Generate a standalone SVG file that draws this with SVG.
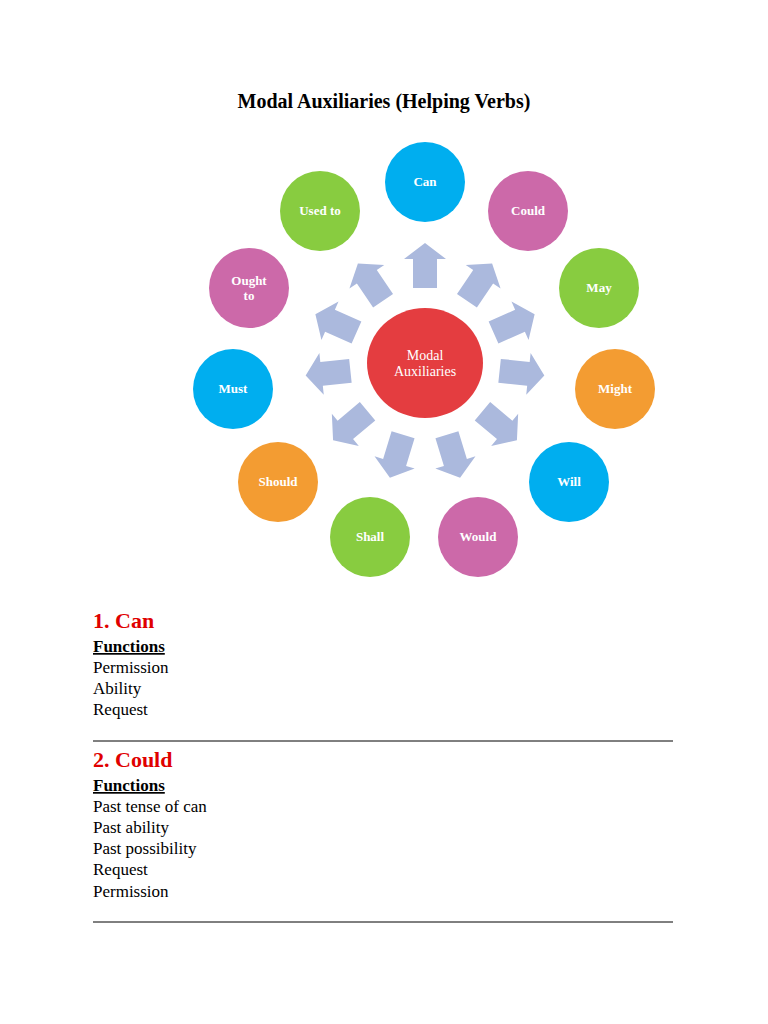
<svg xmlns="http://www.w3.org/2000/svg" width="768" height="1024" viewBox="0 0 768 1024">
<style>
.t{font-family:"Liberation Serif",serif}
.n{font-family:"Liberation Serif",serif;font-weight:bold;font-size:13px;fill:#fff;text-anchor:middle}
.h{font-family:"Liberation Serif",serif;font-weight:bold;font-size:22px;fill:#e00000}
.f{font-family:"Liberation Serif",serif;font-weight:bold;font-size:17px;text-decoration:underline}
.b{font-family:"Liberation Serif",serif;font-size:17px}
.ar{fill:#abb9dd}
</style>
<defs>
<path id="arr" d="M-12,-75 L12,-75 L12,-104 L21,-104 L0,-120 L-21,-104 L-12,-104 Z"/>
</defs>
<rect width="768" height="1024" fill="#fff"/>
<text class="t" x="384" y="108" font-size="20" font-weight="bold" text-anchor="middle">Modal Auxiliaries (Helping Verbs)</text>
<g id="connectors" class="ar" transform="translate(425,363)">
<use href="#arr" transform="rotate(0)"/>
<use href="#arr" transform="rotate(34)"/>
<use href="#arr" transform="rotate(66)"/>
<use href="#arr" transform="rotate(96)"/>
<use href="#arr" transform="rotate(130)"/>
<use href="#arr" transform="rotate(163)"/>
<use href="#arr" transform="rotate(197)"/>
<use href="#arr" transform="rotate(230)"/>
<use href="#arr" transform="rotate(264)"/>
<use href="#arr" transform="rotate(294)"/>
<use href="#arr" transform="rotate(326)"/>
</g>
<g id="center"><ellipse cx="425" cy="363" rx="58" ry="55" fill="#e43d40"/>
<text class="t" x="425" y="360" font-size="14" fill="#fff" text-anchor="middle">Modal</text>
<text class="t" x="425" y="376" font-size="14" fill="#fff" text-anchor="middle">Auxiliaries</text></g>
<g id="can"><circle cx="425" cy="182" r="40" fill="#00aeef"/><text class="n" x="425" y="186">Can</text></g>
<g id="could"><circle cx="528" cy="211" r="40" fill="#cc69a9"/><text class="n" x="528" y="215">Could</text></g>
<g id="may"><circle cx="599" cy="288" r="40" fill="#88cc40"/><text class="n" x="599" y="292">May</text></g>
<g id="might"><circle cx="615" cy="389" r="40" fill="#f39c32"/><text class="n" x="615" y="393">Might</text></g>
<g id="will"><circle cx="569" cy="482" r="40" fill="#00aeef"/><text class="n" x="569" y="486">Will</text></g>
<g id="would"><circle cx="478" cy="537" r="40" fill="#cc69a9"/><text class="n" x="478" y="541">Would</text></g>
<g id="shall"><circle cx="370" cy="537" r="40" fill="#88cc40"/><text class="n" x="370" y="541">Shall</text></g>
<g id="should"><circle cx="278" cy="482" r="40" fill="#f39c32"/><text class="n" x="278" y="486">Should</text></g>
<g id="must"><circle cx="233" cy="389" r="40" fill="#00aeef"/><text class="n" x="233" y="393">Must</text></g>
<g id="ought"><circle cx="249" cy="288" r="40" fill="#cc69a9"/><text class="n" x="249" y="285">Ought</text><text class="n" x="249" y="300">to</text></g>
<g id="usedto"><circle cx="320" cy="211" r="40" fill="#88cc40"/><text class="n" x="320" y="215">Used to</text></g>
<text class="h" x="93" y="628">1. Can</text>
<text class="f" x="93" y="652">Functions</text>
<text class="b" x="93" y="673">Permission</text>
<text class="b" x="93" y="694">Ability</text>
<text class="b" x="93" y="715">Request</text>
<line x1="93" y1="741" x2="673" y2="741" stroke="#000" stroke-width="1"/>
<text class="h" x="93" y="767">2. Could</text>
<text class="f" x="93" y="791">Functions</text>
<text class="b" x="93" y="812">Past tense of can</text>
<text class="b" x="93" y="833">Past ability</text>
<text class="b" x="93" y="854">Past possibility</text>
<text class="b" x="93" y="875">Request</text>
<text class="b" x="93" y="897">Permission</text>
<line x1="93" y1="922" x2="673" y2="922" stroke="#000" stroke-width="1"/>
</svg>
